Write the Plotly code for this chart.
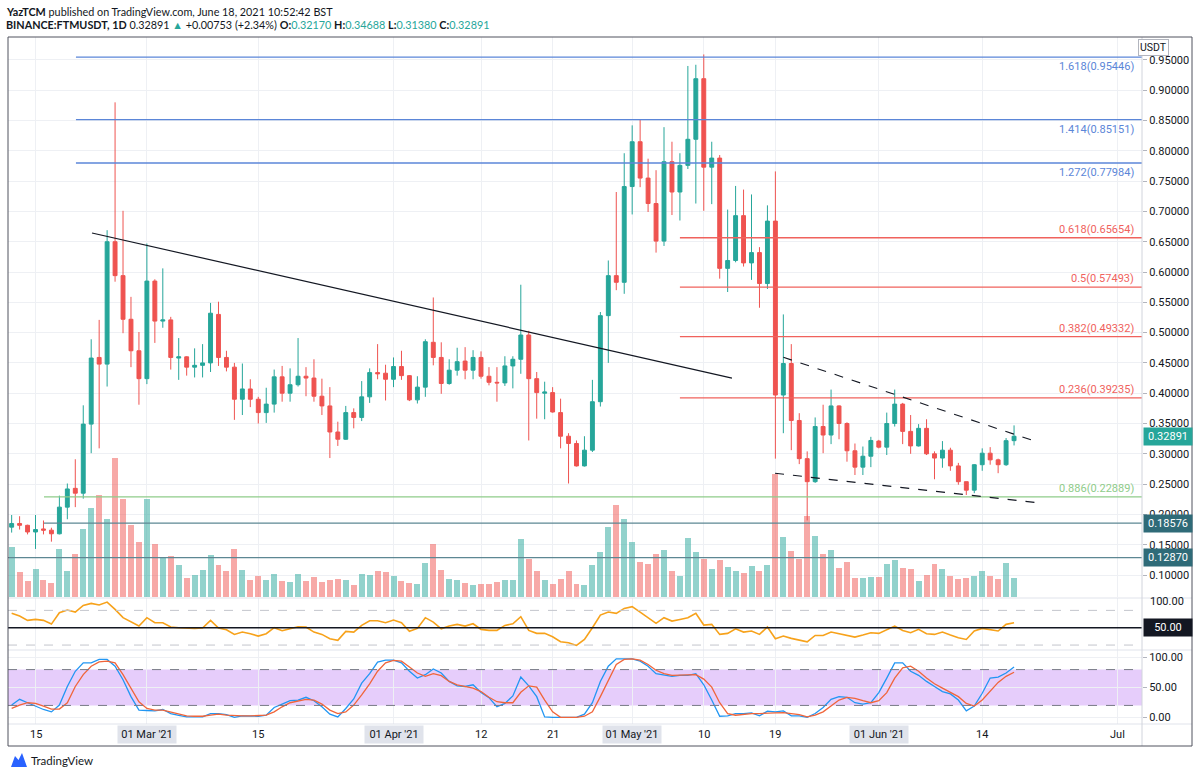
import plotly.graph_objects as go
import pandas as pd

W, H = 1200, 777


def px(x):
    return x / W


def py(y):
    return 1 - y / H


# ---- data (FTMUSDT daily, 12 Feb - 18 Jun 2021) ----
dates = pd.date_range("2021-02-12", "2021-06-18", freq="D")

opens = [
    .179, .185, .182, .171, .176, .174, .168, .212, .243, .235, .349, .459, .448, .650, .594, .522, .470,
    .424, .585, .519, .521, .458, .460, .443, .446, .450, .530, .459, .443, .390, .407, .390, .368,
    .382, .427, .400, .414, .428, .425, .395, .379, .336, .324, .368, .360, .394, .434, .433,
    .423, .444, .429, .389, .410, .484, .459, .416, .438, .453, .438, .459, .428, .418, .417,
    .445, .456, .496, .424, .400, .401, .368, .329, .317, .280, .306, .386, .528, .594, .583,
    .741, .815, .755, .713, .651, .782, .732, .776, .819, .919, .773, .788, .606, .619, .693,
    .615, .632, .581, .684, .397, .449, .355, .292, .254, .345, .331, .379, .350, .305, .278, .296,
    .321, .311, .350, .382, .337, .313, .342, .300, .293, .306, .280, .254, .240, .282, .301,
    .290, .282, .3217,
]
highs = [
    .199, .197, .183, .199, .190, .178, .231, .251, .291, .380, .489, .521, .669, .880, .701, .559, .501,
    .647, .588, .606, .526, .491, .461, .474, .481, .549, .551, .470, .450, .449, .423, .394, .409,
    .439, .445, .441, .491, .443, .456, .424, .410, .353, .379, .375, .420, .441, .481, .447,
    .459, .470, .430, .428, .489, .558, .484, .456, .475, .476, .471, .469, .443, .443, .461,
    .461, .579, .503, .435, .419, .410, .391, .334, .322, .329, .422, .534, .619, .732, .796,
    .842, .851, .787, .768, .839, .815, .796, .940, .942, .959, .815, .793, .703, .742, .736,
    .728, .641, .710, .766, .530, .481, .367, .304, .360, .381, .406, .380, .352, .317, .312, .328,
    .323, .368, .406, .384, .364, .349, .357, .304, .321, .310, .285, .254, .283, .309, .311,
    .292, .326, .34688,
]
lows = [
    .170, .175, .167, .143, .167, .155, .167, .192, .212, .226, .301, .309, .411, .584, .499, .443, .381,
    .415, .483, .508, .439, .422, .429, .426, .426, .435, .445, .436, .356, .364, .377, .350, .351,
    .368, .386, .386, .411, .395, .386, .364, .293, .313, .323, .342, .354, .384, .423, .388,
    .410, .422, .387, .383, .394, .446, .399, .414, .429, .423, .423, .424, .413, .386, .412,
    .408, .432, .322, .358, .357, .368, .309, .251, .279, .279, .303, .378, .450, .570, .564,
    .695, .740, .699, .632, .643, .694, .685, .770, .713, .701, .712, .589, .567, .616, .609,
    .587, .541, .572, .292, .334, .306, .283, .190, .252, .301, .316, .324, .287, .265, .265, .278,
    .309, .298, .345, .316, .300, .312, .298, .258, .277, .272, .249, .232, .235, .272, .282,
    .268, .280, .3138,
]
closes = [
    .185, .182, .171, .175, .174, .168, .212, .242, .235, .349, .458, .448, .650, .594, .522, .470, .424,
    .585, .519, .521, .459, .460, .443, .446, .450, .532, .459, .443, .390, .407, .390, .368, .382,
    .427, .400, .414, .428, .425, .395, .379, .336, .324, .368, .360, .394, .434, .432, .423,
    .444, .429, .389, .410, .485, .459, .416, .438, .452, .438, .459, .428, .418, .417, .445,
    .456, .496, .424, .401, .402, .369, .329, .317, .280, .306, .386, .528, .594, .583, .741,
    .815, .755, .713, .651, .782, .732, .776, .819, .919, .773, .788, .606, .619, .693, .615,
    .632, .581, .684, .397, .449, .355, .292, .254, .345, .331, .379, .350, .305, .278, .296, .322,
    .311, .350, .382, .337, .313, .342, .300, .293, .306, .280, .254, .240, .282, .301, .290,
    .282, .3217, .32891,
]
volumes = [
    50, 25, 16, 28, 17, 14, 48, 26, 43, 68, 89, 102, 78, 139, 98, 72, 55,
    98, 53, 40, 41, 32, 19, 22, 27, 42, 32, 26, 48, 27, 17, 21, 17, 23, 16, 15, 23,
    16, 20, 15, 17, 18, 17, 12, 23, 22, 26, 25,
    21, 16, 14, 13, 34, 53, 27, 18, 17, 14, 12, 13, 13, 15, 17, 17, 58, 38, 26, 17,
    13, 18, 26, 13, 12, 32, 45, 70, 92, 78,
    55, 35, 33, 43, 47, 26, 21, 59, 45, 38, 28, 37, 30, 26, 24, 31, 26, 32, 123, 60,
    46, 38, 81, 61, 43, 47, 29, 35, 19, 19, 20,
    20, 33, 37, 29, 28, 16, 22, 33, 28, 21, 18, 19, 21, 26, 21, 18, 34, 19,
]
rsi = [
    66.6, 63.5, 58.5, 59.6, 58.5, 54.2, 67.3, 70.4, 68.1, 75.8, 78.1, 76.2, 79.6, 71.2, 61.6, 56.5, 51.9,
    61.6, 55.8, 55.8, 50.8, 50.0, 49.2, 49.2, 49.6, 58.5, 49.6, 47.7, 42.3, 45.0, 43.1, 40.4, 43.1,
    50.0, 46.5, 49.2, 51.2, 50.8, 45.0, 42.3, 37.3, 35.4, 45.8, 45.0, 52.7, 58.1, 58.1, 55.8,
    58.9, 55.8, 45.8, 49.2, 61.6, 56.5, 48.8, 51.9, 53.9, 51.9, 54.6, 48.1, 46.9, 46.9, 52.7,
    54.6, 62.7, 46.9, 43.5, 43.5, 39.6, 33.8, 32.7, 29.6, 36.5, 50.0, 64.6, 68.1, 66.6, 72.3,
    74.3, 68.1, 61.6, 55.0, 61.6, 57.7, 59.6, 61.6, 66.6, 53.1, 53.9, 42.3, 43.5, 48.8, 45.0,
    46.2, 42.3, 50.8, 37.3, 40.4, 37.7, 35.4, 33.8, 41.1, 41.1, 45.0, 43.1, 40.4, 39.2, 41.5, 44.2,
    43.5, 48.1, 51.9, 46.9, 44.2, 48.1, 43.1, 42.3, 45.0, 41.5, 38.5, 36.5, 46.2, 49.2, 47.3,
    46.2, 53.9, 55.8,
]
stoch_k = [
    20.6, 30.2, 24.5, 18.9, 13.2, 9.2, 20.6, 51.7, 77.2, 91.3, 91.3, 97.0, 97.0, 85.7, 63.0, 34.7, 12.1,
    11.5, 11.0, 13.2, 6.2, 3.4, 0.8, 0.8, 0.8, 6.2, 6.2, 4.7, 0.0, 2.5, 1.9, 1.9, 3.6,
    16.6, 22.3, 27.9, 29.0, 33.6, 27.9, 17.7, 5.3, 0.8, 14.9, 30.8, 57.4, 73.2, 92.4, 95.8,
    95.8, 91.3, 77.2, 65.8, 71.5, 81.1, 74.3, 60.2, 52.8, 51.7, 54.5, 41.5, 33.0, 17.7, 23.4,
    35.8, 67.5, 52.8, 34.7, 0.8, 0.0, 0.0, 0.0, 0.0, 5.3, 24.5, 60.2, 85.7, 98.1, 98.1,
    98.1, 94.1, 85.7, 73.2, 70.4, 68.7, 70.4, 70.4, 73.2, 54.5, 29.0, 1.9, 2.5, 6.4, 6.4,
    7.5, 2.5, 10.4, 9.2, 10.9, 2.5, 2.5, 0.0, 6.4, 16.6, 30.2, 34.7, 33.6, 24.5, 22.3, 24.5,
    41.5, 65.8, 91.3, 91.3, 77.2, 70.4, 60.2, 51.7, 43.2, 39.2, 29.0, 11.0, 18.9, 40.4, 65.8,
    67.5, 74.3, 84.5,
]
stoch_d = [
    14.9, 20.6, 24.5, 23.4, 18.9, 13.8, 13.8, 24.5, 51.7, 71.5, 85.7, 93.0, 94.1, 91.3, 71.5, 48.9, 26.2,
    14.9, 12.1, 12.1, 9.2, 5.3, 2.5, 1.9, 1.9, 3.6, 5.3, 3.6, 2.5, 2.5, 2.5, 2.5, 3.6,
    9.2, 17.7, 24.5, 27.9, 30.2, 29.0, 22.3, 12.1, 6.2, 9.2, 20.6, 37.5, 56.2, 77.2, 91.3,
    95.3, 94.1, 84.5, 74.3, 68.7, 73.2, 69.8, 60.2, 54.5, 51.7, 48.9, 43.2, 33.6, 26.2, 24.5,
    24.5, 42.0, 52.8, 50.6, 29.0, 9.2, 0.0, 0.0, 0.0, 1.9, 9.2, 34.7, 63.0, 88.5, 97.0,
    98.1, 95.8, 88.5, 78.9, 73.2, 70.4, 70.4, 71.5, 71.5, 64.1, 50.6, 24.5, 6.4, 3.6, 5.3,
    6.4, 6.4, 7.5, 7.5, 8.1, 6.4, 4.7, 0.8, 3.6, 9.2, 18.9, 29.0, 33.6, 31.9, 27.9, 24.5,
    27.9, 41.5, 65.8, 82.8, 85.7, 77.2, 65.8, 56.2, 48.9, 41.5, 34.7, 23.4, 18.9, 29.0, 43.2,
    58.5, 68.7, 75.5,
]

price_ticks = [0.10, 0.15, 0.20, 0.25, 0.30, 0.35, 0.40, 0.45, 0.50, 0.55,
               0.60, 0.65, 0.70, 0.75, 0.80, 0.85, 0.90, 0.95]
date_ticks = ["2021-02-15", "2021-03-01", "2021-03-15", "2021-04-01", "2021-04-12", "2021-04-21",
              "2021-05-01", "2021-05-10", "2021-05-19", "2021-06-01", "2021-06-14", "2021-07-01"]
date_labels = ["15", "01 Mar '21", "15", "01 Apr '21", "12", "21",
               "01 May '21", "10", "19", "01 Jun '21", "14", "Jul"]

# fibonacci levels: (label, price, start, colour, label above line?)
fib_levels = [
    ("1.618", 0.95446, "2021-02-20 02:00", "#5b86d8", False),
    ("1.414", 0.85151, "2021-02-20 02:00", "#5b86d8", False),
    ("1.272", 0.77984, "2021-02-20 02:00", "#5b86d8", False),
    ("0.618", 0.65654, "2021-05-07", "#f0625d", True),
    ("0.5", 0.57493, "2021-05-07", "#f0625d", True),
    ("0.382", 0.49332, "2021-05-07", "#f0625d", True),
    ("0.236", 0.39235, "2021-05-07", "#f0625d", True),
    ("0.886", 0.22889, "2021-02-16 01:30", "#8fcc8a", True),
]
support_levels = [(0.18576, "2021-02-16 01:30"), (0.12870, "2021-02-11 13:00")]

GREEN = "#26a69a"
RED = "#ef5350"
X_START, X_END = "2021-02-11 13:00", "2021-07-04 02:00"
FONT = "Roboto"

fig = go.Figure()

vol_colors = ["rgba(38,166,154,0.5)" if c >= o else "rgba(239,83,80,0.5)"
              for o, c in zip(opens, closes)]
fig.add_trace(go.Bar(x=dates, y=volumes, marker_color=vol_colors, marker_line_width=0,
                     width=0.75 * 86400000, xaxis="x", yaxis="y2", showlegend=False))

fig.add_trace(go.Candlestick(
    x=dates, open=opens, high=highs, low=lows, close=closes,
    increasing=dict(line=dict(color=GREEN, width=1), fillcolor=GREEN),
    decreasing=dict(line=dict(color=RED, width=1), fillcolor=RED),
    whiskerwidth=0, xaxis="x", yaxis="y", showlegend=False))

fig.add_trace(go.Scatter(x=dates, y=rsi, mode="lines", line=dict(color="#f7a21b", width=1.6),
                         xaxis="x2", yaxis="y3", showlegend=False))
fig.add_trace(go.Scatter(x=dates, y=stoch_k, mode="lines", line=dict(color="#2196f3", width=1.3),
                         xaxis="x3", yaxis="y4", showlegend=False))
fig.add_trace(go.Scatter(x=dates, y=stoch_d, mode="lines", line=dict(color="#f0653a", width=1.3),
                         xaxis="x3", yaxis="y4", showlegend=False))

shapes = []
annotations = []

# fib + support lines
for lbl, price, start, col, above in fib_levels:
    shapes.append(dict(type="line", xref="x", yref="y", x0=start, x1=X_END, y0=price, y1=price,
                       line=dict(color=col, width=1.3)))
    annotations.append(dict(xref="paper", yref="y", x=px(1136), y=price, xanchor="right",
                            yanchor="bottom" if above else "top", yshift=0 if above else -1,
                            text=f"{lbl}({price:.5f})", showarrow=False,
                            font=dict(color=col, size=11, family=FONT)))
for price, start in support_levels:
    shapes.append(dict(type="line", xref="x", yref="y", x0=start, x1=X_END, y0=price, y1=price,
                       line=dict(color="#5d8793", width=1.3)))
    annotations.append(dict(xref="paper", yref="y", x=px(1143), y=price, xanchor="left",
                            yanchor="middle", text=f"{price:.5f}", showarrow=False,
                            bgcolor="#2f6b78", width=44, borderpad=2,
                            font=dict(color="white", size=11, family=FONT)))

# trend lines
shapes.append(dict(type="line", xref="x", yref="y", x0="2021-02-22 02:30", y0=0.6644,
                   x1="2021-05-13 13:00", y1=0.425, line=dict(color="#131722", width=1.2)))
shapes.append(dict(type="line", xref="x", yref="y", x0="2021-05-20", y0=0.4593,
                   x1="2021-06-20 20:00", y1=0.320, line=dict(color="#131722", width=1.1, dash="dash")))
shapes.append(dict(type="line", xref="x", yref="y", x0="2021-05-18 23:00", y0=0.2678,
                   x1="2021-06-20 22:00", y1=0.2193, line=dict(color="#131722", width=1.1, dash="dash")))

# RSI guides
for lvl in (70, 30):
    shapes.append(dict(type="line", xref="paper", yref="y3", x0=px(8), x1=px(1142), y0=lvl, y1=lvl,
                       line=dict(color="#c3c5cc", width=1, dash="dash")))
shapes.append(dict(type="line", xref="paper", yref="y3", x0=px(8), x1=px(1142), y0=50, y1=50,
                   line=dict(color="#131722", width=1.4)))

# Stoch RSI band
shapes.append(dict(type="rect", xref="paper", yref="y4", x0=px(8), x1=px(1142), y0=20, y1=80,
                   fillcolor="#e6cdfb", line_width=0, layer="below"))
for lvl in (80, 20):
    shapes.append(dict(type="line", xref="paper", yref="y4", x0=px(8), x1=px(1142), y0=lvl, y1=lvl,
                       line=dict(color="#787b86", width=1, dash="dash")))

# pane separators, price scale edge, outer frame
for yy in (598, 650, 724):
    shapes.append(dict(type="line", xref="paper", yref="paper", x0=px(8), x1=px(1192),
                       y0=py(yy), y1=py(yy), line=dict(color="#e0e3eb", width=1)))
shapes.append(dict(type="line", xref="paper", yref="paper", x0=px(1142), x1=px(1142),
                   y0=py(746), y1=py(37), line=dict(color="#d1d4dc", width=1)))
shapes.append(dict(type="rect", xref="paper", yref="paper", x0=px(8), x1=px(1192),
                   y0=py(746), y1=py(37), line=dict(color="#50535e", width=1)))

# TradingView logo glyph
shapes.append(dict(type="path", xref="paper", yref="paper",
                   path=f"M {px(11)},{py(767)} L {px(15)},{py(756)} L {px(18.5)},{py(760)} "
                        f"L {px(22)},{py(753)} L {px(27)},{py(767)} Z",
                   fillcolor="#2962ff", line_width=0))

# header
HFONT = dict(size=10.8, color="#131722", family="Lato")
annotations.append(dict(xref="paper", yref="paper", x=px(4), y=py(11), xanchor="left",
                        yanchor="middle", showarrow=False, font=HFONT,
                        text="<b>YazTCM</b> published on TradingView.com, June 18, 2021 10:52:42 BST"))
g = lambda s: f"<span style='color:{GREEN}'>{s}</span>"
annotations.append(dict(xref="paper", yref="paper", x=px(4), y=py(24), xanchor="left",
                        yanchor="middle", showarrow=False, font=HFONT,
                        text="<b>BINANCE:FTMUSDT, 1D</b> 0.32891 " + g("▲") + " +0.00753 (+2.34%) "
                             "<b>O:</b>" + g("0.32170") + " <b>H:</b>" + g("0.34688") +
                             " <b>L:</b>" + g("0.31380") + " <b>C:</b>" + g("0.32891")))
annotations.append(dict(xref="paper", yref="paper", x=px(29), y=py(760), xanchor="left",
                        yanchor="middle", showarrow=False, text="TradingView",
                        font=dict(size=11.5, color="#131722", family="Lato")))

# price scale badges
annotations.append(dict(xref="paper", yref="paper", x=px(1169), y=py(48), yanchor="middle",
                        showarrow=False, text="USDT", bgcolor="white", bordercolor="#b2b5be",
                        borderwidth=1, borderpad=1, font=dict(size=10.5, color="#131722", family=FONT)))
annotations.append(dict(xref="paper", yref="y", x=px(1143), y=closes[-1], xanchor="left",
                        yanchor="middle", text=f"{closes[-1]:.5f}", showarrow=False, bgcolor=GREEN,
                        width=44, borderpad=2, font=dict(color="white", size=11, family=FONT)))
annotations.append(dict(xref="paper", yref="paper", x=px(1148), y=py(601), xanchor="left",
                        yanchor="middle", text="100.00", showarrow=False,
                        font=dict(color="#131722", size=11, family=FONT)))
annotations.append(dict(xref="paper", yref="y3", x=px(1143), y=50, xanchor="left",
                        yanchor="middle", text="50.00", showarrow=False, bgcolor="#131722", width=44,
                        borderpad=2, font=dict(color="white", size=11, family=FONT)))

# date labels
for d, lbl in zip(date_ticks, date_labels):
    boxed = "'" in lbl
    ann = dict(xref="x", yref="paper", x=d, y=py(734), yanchor="middle",
               showarrow=False, text=lbl, font=dict(size=11, color="#131722", family=FONT))
    if boxed:
        ann.update(bgcolor="#e0e3eb", width=56, height=15, borderpad=1)
    annotations.append(ann)

grid = "#eef0f4"
xcommon = dict(range=[X_START, X_END], domain=[px(8), px(1142)], type="date",
               tickvals=date_ticks, showticklabels=False, showgrid=True, gridcolor=grid,
               zeroline=False, showline=False, ticks="")

fig.update_layout(
    width=W, height=H, margin=dict(l=0, r=0, t=0, b=0),
    paper_bgcolor="white", plot_bgcolor="white",
    font=dict(family=FONT, size=11, color="#131722"),
    bargap=0, showlegend=False,
    xaxis=dict(**xcommon, anchor="y", rangeslider=dict(visible=False)),
    xaxis2=dict(**xcommon, anchor="y3", matches="x"),
    xaxis3=dict(**xcommon, anchor="y4", matches="x"),
    yaxis=dict(domain=[py(597), py(37)], range=[0.0637, 0.9878], side="right", anchor="x",
               tickvals=price_ticks, tickformat=".5f", showgrid=True, gridcolor=grid,
               ticks="outside", ticklen=4, tickcolor="#b2b5be", zeroline=False,
               tickfont=dict(size=11, color="#131722")),
    yaxis2=dict(overlaying="y", range=[0, 560], visible=False, anchor="x"),
    yaxis3=dict(domain=[py(650), py(598)], range=[24.3, 84.3], side="right", anchor="x2",
                showticklabels=False, showgrid=False, zeroline=False),
    yaxis4=dict(domain=[py(724), py(650)], range=[-11.1, 112.8], side="right", anchor="x3",
                tickvals=[0, 50, 100], ticktext=["0.00", "50.00", "100.00"], showgrid=True,
                gridcolor=grid, ticks="outside", ticklen=4, tickcolor="#b2b5be", zeroline=False,
                tickfont=dict(size=11, color="#131722")),
    shapes=shapes,
    annotations=annotations,
)

# page body has a default 8px margin; drop it so the figure sits at the window origin
fig.write_html("out.html", config={"displayModeBar": False},
               post_script="document.body.style.margin = '0px';")
